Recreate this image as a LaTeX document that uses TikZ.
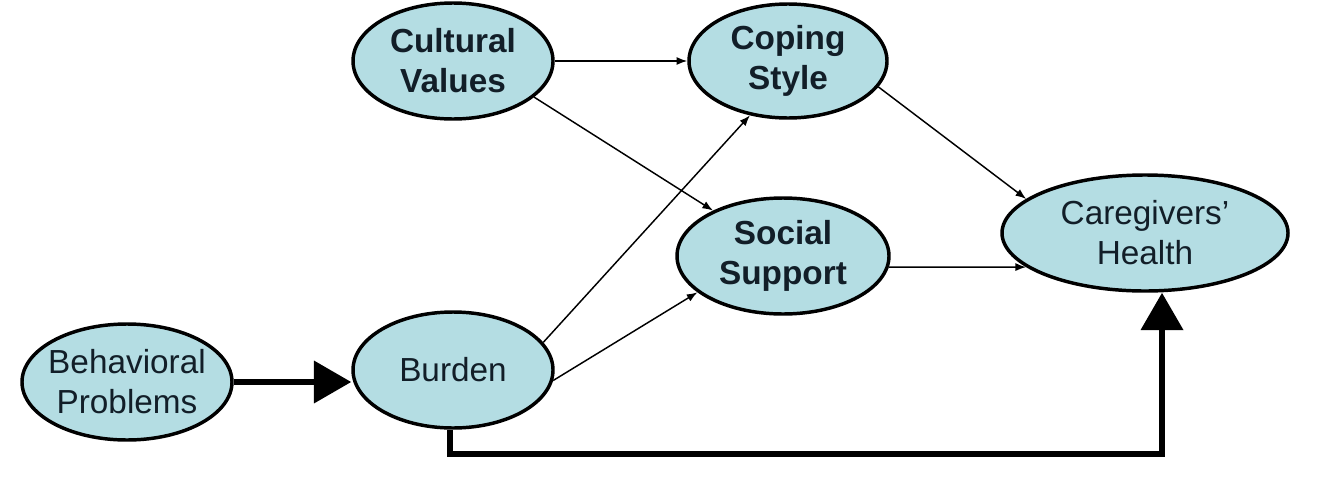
\documentclass[tikz,border=0pt]{standalone}
\usepackage{fontspec}
\setmainfont{Liberation Sans}
\usetikzlibrary{shapes.geometric,arrows.meta}
\definecolor{nodefill}{RGB}{180,221,227}
\definecolor{nodetext}{RGB}{18,30,40}
\tikzset{
  var/.style={ellipse, draw=black, line width=2.6pt, fill=nodefill, inner xsep=-30pt, inner ysep=-15pt,
    text=nodetext, align=center, font=\fontsize{25}{30}\selectfont},
  boldvar/.style={var, font=\fontsize{25}{30}\selectfont\bfseries},
  thinarrow/.style={line width=1.1pt, -{Latex[length=8pt,width=6pt]}},
  thickarrow/.style={line width=4.5pt, line join=miter, -{Triangle[length=28pt,width=31pt]}}
}
\begin{document}
\begin{tikzpicture}[x=0.75pt,y=0.75pt]
\useasboundingbox (0,0) rectangle (1330,480);
\node[boldvar, minimum width=150pt, minimum height=87pt] (cv) at (453,419) {Cultural\\Values};
\node[boldvar, minimum width=148.5pt, minimum height=85.5pt] (cs) at (788,419) {Coping\\Style};
\node[boldvar, minimum width=159pt, minimum height=87pt] (ss) at (783,224) {Social\\Support};
\node[var, minimum width=214.5pt, minimum height=87pt] (ch) at (1145,247) {Caregivers'\\Health};
\node[var, minimum width=157.5pt, minimum height=87pt] (bp) at (127,98) {Behavioral\\Problems};
\node[var, minimum width=150pt, minimum height=87pt] (bu) at (453,110) {Burden};

\draw[thinarrow] (cv.east) -- (cs.west);
\draw[thinarrow] (cv.-24) -- (ss.147);
\draw[thinarrow] (bu.17) -- (cs.235);
\draw[thinarrow] (bu.-6) -- (ss.203);
\draw[thinarrow] (cs.-16) -- (ch.164);
\draw[thinarrow] (ss.-6) -- (ch.196);

\draw[thickarrow] (bp.east) -- (bp.east -| bu.west);
\draw[thickarrow] ([xshift=-2.25pt]bu.south) -- ++(0,-18pt) -| ([xshift=12.75pt]ch.south);
\end{tikzpicture}
\end{document}
